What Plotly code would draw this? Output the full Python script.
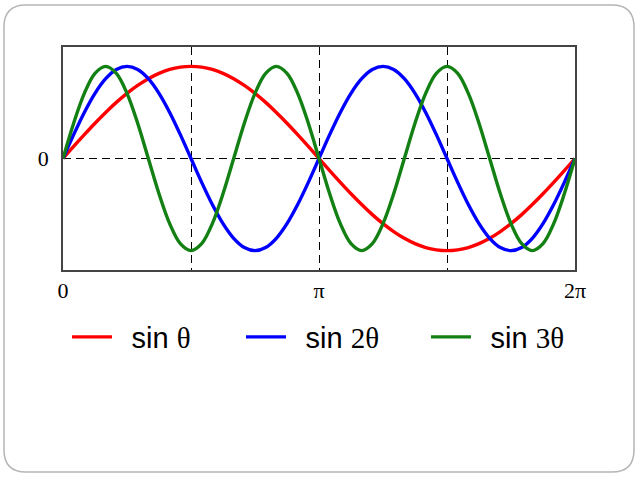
import plotly.graph_objects as go

# angle in degrees, sampled every 7.5 deg
theta_deg = [0, 7.5, 15, 22.5, 30, 37.5, 45, 52.5, 60, 67.5, 75, 82.5, 90,
             97.5, 105, 112.5, 120, 127.5, 135, 142.5, 150, 157.5, 165, 172.5, 180,
             187.5, 195, 202.5, 210, 217.5, 225, 232.5, 240, 247.5, 255, 262.5, 270,
             277.5, 285, 292.5, 300, 307.5, 315, 322.5, 330, 337.5, 345, 352.5, 360]

sin_1 = [0, 0.131, 0.259, 0.383, 0.5, 0.609, 0.707, 0.793, 0.866, 0.924, 0.966, 0.991, 1,
         0.991, 0.966, 0.924, 0.866, 0.793, 0.707, 0.609, 0.5, 0.383, 0.259, 0.131, 0,
         -0.131, -0.259, -0.383, -0.5, -0.609, -0.707, -0.793, -0.866, -0.924, -0.966, -0.991, -1,
         -0.991, -0.966, -0.924, -0.866, -0.793, -0.707, -0.609, -0.5, -0.383, -0.259, -0.131, 0]

sin_2 = [0, 0.259, 0.5, 0.707, 0.866, 0.966, 1, 0.966, 0.866, 0.707, 0.5, 0.259, 0,
         -0.259, -0.5, -0.707, -0.866, -0.966, -1, -0.966, -0.866, -0.707, -0.5, -0.259, 0,
         0.259, 0.5, 0.707, 0.866, 0.966, 1, 0.966, 0.866, 0.707, 0.5, 0.259, 0,
         -0.259, -0.5, -0.707, -0.866, -0.966, -1, -0.966, -0.866, -0.707, -0.5, -0.259, 0]

sin_3 = [0, 0.383, 0.707, 0.924, 1, 0.924, 0.707, 0.383, 0, -0.383, -0.707, -0.924, -1,
         -0.924, -0.707, -0.383, 0, 0.383, 0.707, 0.924, 1, 0.924, 0.707, 0.383, 0,
         -0.383, -0.707, -0.924, -1, -0.924, -0.707, -0.383, 0, 0.383, 0.707, 0.924, 1,
         0.924, 0.707, 0.383, 0, -0.383, -0.707, -0.924, -1, -0.924, -0.707, -0.383, 0]

series_names = ["sin <span style='font-family:Liberation Serif'>θ</span>",
                "sin <span style='font-family:Liberation Serif'>2θ</span>",
                "sin <span style='font-family:Liberation Serif'>3θ</span>"]
series_colors = ["#ff0000", "#0000ff", "#138013"]

x_ticks = [0, 90, 180, 270, 360]
x_tick_text = ["0", "", "π", "", "2π"]

W, H = 638, 478
L, R, T, B = 63, 575, 47, 270


def px(x):
    return (x - L) / (R - L)


def py(y):
    return (B - y) / (B - T)


fig = go.Figure()
legend_ids = ['legend', 'legend2', 'legend3']
for ys, name, col, lg in zip([sin_1, sin_2, sin_3], series_names, series_colors, legend_ids):
    # en space keeps a wider gap between legend line and label
    fig.add_trace(go.Scatter(x=theta_deg, y=ys, mode='lines', name='\u2002' + name,
                             legend=lg, showlegend=True,
                             line=dict(color=col, width=3.4, shape='spline')))

# rounded slide border
x0, y0, x1, y1, r = 4, 5, 634, 472, 22
path = (f"M {px(x0 + r)},{py(y0)} L {px(x1 - r)},{py(y0)} "
        f"Q {px(x1)},{py(y0)} {px(x1)},{py(y0 + r)} L {px(x1)},{py(y1 - r)} "
        f"Q {px(x1)},{py(y1)} {px(x1 - r)},{py(y1)} L {px(x0 + r)},{py(y1)} "
        f"Q {px(x0)},{py(y1)} {px(x0)},{py(y1 - r)} L {px(x0)},{py(y0 + r)} "
        f"Q {px(x0)},{py(y0)} {px(x0 + r)},{py(y0)} Z")
fig.add_shape(type='path', path=path, xref='paper', yref='paper',
              line=dict(color='#b5b5b5', width=1.5), layer='below')

tick_font = dict(family='Liberation Serif', size=22, color='black')
fig.update_xaxes(range=[0, 360], tickvals=x_ticks, ticktext=x_tick_text,
                 showgrid=True, gridcolor='black', gridwidth=1, griddash='8px,5px',
                 showline=True, linecolor='#444', linewidth=1.5, mirror=True,
                 zeroline=False, ticks='', tickfont=tick_font, ticklabelstandoff=0)
fig.update_yaxes(range=[-1.21, 1.21], tickvals=[0], ticktext=["0"],
                 showgrid=True, gridcolor='black', gridwidth=1, griddash='8px,5px',
                 showline=True, linecolor='#444', linewidth=1.5, mirror=True,
                 zeroline=False, ticks='', tickfont=tick_font, ticklabelstandoff=8)

legend_style = dict(orientation='h', xanchor='left', y=py(337), yanchor='middle',
                    font=dict(family='Liberation Sans', size=29, color='black'),
                    itemwidth=40, bgcolor='rgba(0,0,0,0)')
fig.update_layout(
    width=W, height=H, autosize=False, showlegend=True,
    margin=dict(l=L, r=W - R, t=T, b=H - B),
    paper_bgcolor='white', plot_bgcolor='white',
    legend=dict(x=px(67), **legend_style),
    legend2=dict(x=px(241), **legend_style),
    legend3=dict(x=px(426), **legend_style),
)

fig.write_html("out.html", config={'displayModeBar': False},
               post_script="document.body.style.margin='0';")
